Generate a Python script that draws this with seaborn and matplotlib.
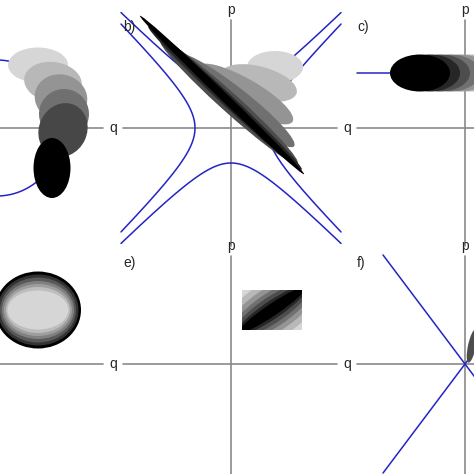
import numpy as np
import pandas as pd
import matplotlib
matplotlib.use("Agg")
import matplotlib.pyplot as plt
from matplotlib.patches import Ellipse, Rectangle
import seaborn as sns

sns.set_style("white")
plt.rcParams['font.family'] = ['Liberation Sans', 'DejaVu Sans']

# panel origins (pixel-like frame, y up)
panel_names = ["a)", "b)", "c)", "d)", "e)", "f)"]
origin_q = [-3, 231, 465, -3, 231, 465]
origin_p = [346, 346, 346, 110, 110, 110]
half = 108

# ellipse stacks per panel: (q, p, width, height, angle, gray)
ell_a_q = [41, 56, 64, 67, 66, 55]
ell_a_p = [63, 46, 30, 14, -2, -40]
ell_a_w = [60, 58, 53, 50, 48, 37]
ell_a_h = [35, 40, 47, 50, 55, 60]
ell_a_ang = [0, -8, -15, -20, -25, 0]
ell_a_gray = [0.84, 0.72, 0.58, 0.44, 0.28, 0.0]

ell_b_q = [44, 28, 14, 4, -2, -6, -9]
ell_b_p = [61, 45, 34, 28, 26, 30, 33]
ell_b_w = [56, 78, 110, 150, 185, 210, 228]
ell_b_h = [32, 33, 30, 25, 19, 12, 8]
ell_b_ang = [0, -15, -30, -38, -42, -43, -44]
ell_b_gray = [0.84, 0.72, 0.58, 0.44, 0.3, 0.15, 0.0]

ell_c_q = [15, 5, -5, -15, -25, -35, -45]
ell_c_w = [60, 60, 60, 60, 60, 60, 60]
ell_c_gray = [0.84, 0.72, 0.58, 0.44, 0.3, 0.15, 0.0]
ell_c_p = 55
ell_c_h = 37

ell_d_w = [86, 81, 76, 72, 68, 64, 61]
ell_d_h = [77, 71, 65, 58, 52, 46, 39]
ell_d_gray = [0.0, 0.2, 0.35, 0.5, 0.62, 0.74, 0.84]
ell_d_center = (41, 54)

ell_e_w = [150, 130, 115, 102, 92, 86, 80]
ell_e_h = [70, 56, 44, 34, 26, 18, 12]
ell_e_gray = [0.84, 0.72, 0.58, 0.44, 0.3, 0.15, 0.0]
ell_e_center = (41, 54)
ell_e_box = (11, 34, 60, 40)

hyp_a1 = 36   # q^2 - p^2 = a^2
hyp_a2 = 35   # p^2 - q^2 = a^2
f_slope = 1.33

fig = plt.figure(figsize=(4.74, 4.74), dpi=100)
ax = fig.add_axes([0, 0, 1, 1])
ax.set_xlim(0, 474)
ax.set_ylim(0, 474)
ax.set_aspect("equal")
ax.axis("off")

BLUE = "#2424c4"
AX = "#8a8a8a"

def X(i, q): return origin_q[i] + np.asarray(q)
def Y(i, p): return origin_p[i] + np.asarray(p)

def add_ell(i, q, p, w, h, ang, g, clip=None):
    e = Ellipse((X(i, q), Y(i, p)), w, h, angle=ang, facecolor=str(g), edgecolor="none", zorder=3)
    ax.add_patch(e)
    if clip is not None:
        e.set_clip_path(clip)

def blue(i, q, p):
    df = pd.DataFrame({"x": X(i, q), "y": Y(i, p)})
    sns.lineplot(data=df, x="x", y="y", sort=False, color=BLUE, lw=1.1, ax=ax, zorder=2, estimator=None)

# axes, labels
for i in range(6):
    ox, oy = origin_q[i], origin_p[i]
    ax.plot([ox - half, ox + half - 2], [oy, oy], color=AX, lw=1.2, zorder=1)
    ax.plot([ox, ox], [oy - 118, oy + half], color=AX, lw=1.2, zorder=1)
    if 0 < ox + 116 < 470:
        ax.text(ox + 116, oy, "q", ha="center", va="center", fontsize=10)
    if ox > 0:
        ax.text(ox, oy + 118, "p", ha="center", va="center", fontsize=10)
    if ox - 108 > 0:
        ax.text(ox - 108, oy + 101, panel_names[i], ha="left", va="center", fontsize=10)

# panel a: blue closed curve
t = np.linspace(0, 2 * np.pi, 300)
blue(0, 65 * np.cos(t), 68 * np.sin(t))
for k in range(len(ell_a_q)):
    add_ell(0, ell_a_q[k], ell_a_p[k], ell_a_w[k], ell_a_h[k], ell_a_ang[k], ell_a_gray[k])

# panel b: hyperbolas
s1 = np.linspace(-np.arccosh(110 / hyp_a1), np.arccosh(110 / hyp_a1), 200)
s2 = np.linspace(-np.arcsinh(110 / hyp_a2), np.arcsinh(110 / hyp_a2), 200)
for sign in (1, -1):
    blue(1, sign * hyp_a1 * np.cosh(s1), hyp_a1 * np.sinh(s1))
    blue(1, hyp_a2 * np.sinh(s2), sign * hyp_a2 * np.cosh(s2))
for k in range(len(ell_b_q)):
    add_ell(1, ell_b_q[k], ell_b_p[k], ell_b_w[k], ell_b_h[k], ell_b_ang[k], ell_b_gray[k])

# panel c
blue(2, np.array([-108, -75]), np.array([ell_c_p, ell_c_p]))
for k in range(len(ell_c_q)):
    add_ell(2, ell_c_q[k], ell_c_p, ell_c_w[k], ell_c_h, 0, ell_c_gray[k])

# panel d
for k in range(len(ell_d_w)):
    add_ell(3, ell_d_center[0], ell_d_center[1], ell_d_w[k], ell_d_h[k], 0, ell_d_gray[k])

# panel e
bq, bp, bw, bh = ell_e_box
clip = Rectangle((X(4, bq), Y(4, bp)), bw, bh, transform=ax.transData, facecolor="none", edgecolor="none")
ax.add_patch(clip)
for k in range(len(ell_e_w)):
    add_ell(4, ell_e_center[0], ell_e_center[1], ell_e_w[k], ell_e_h[k], 34, ell_e_gray[k], clip=clip)

# panel f
qq = np.array([-82.0, 12.0])
blue(5, qq, -f_slope * qq)
blue(5, qq, f_slope * qq)
add_ell(5, 7, 18, 8, 34, -12, 0.3)

fig.savefig("out.png", dpi=100)
